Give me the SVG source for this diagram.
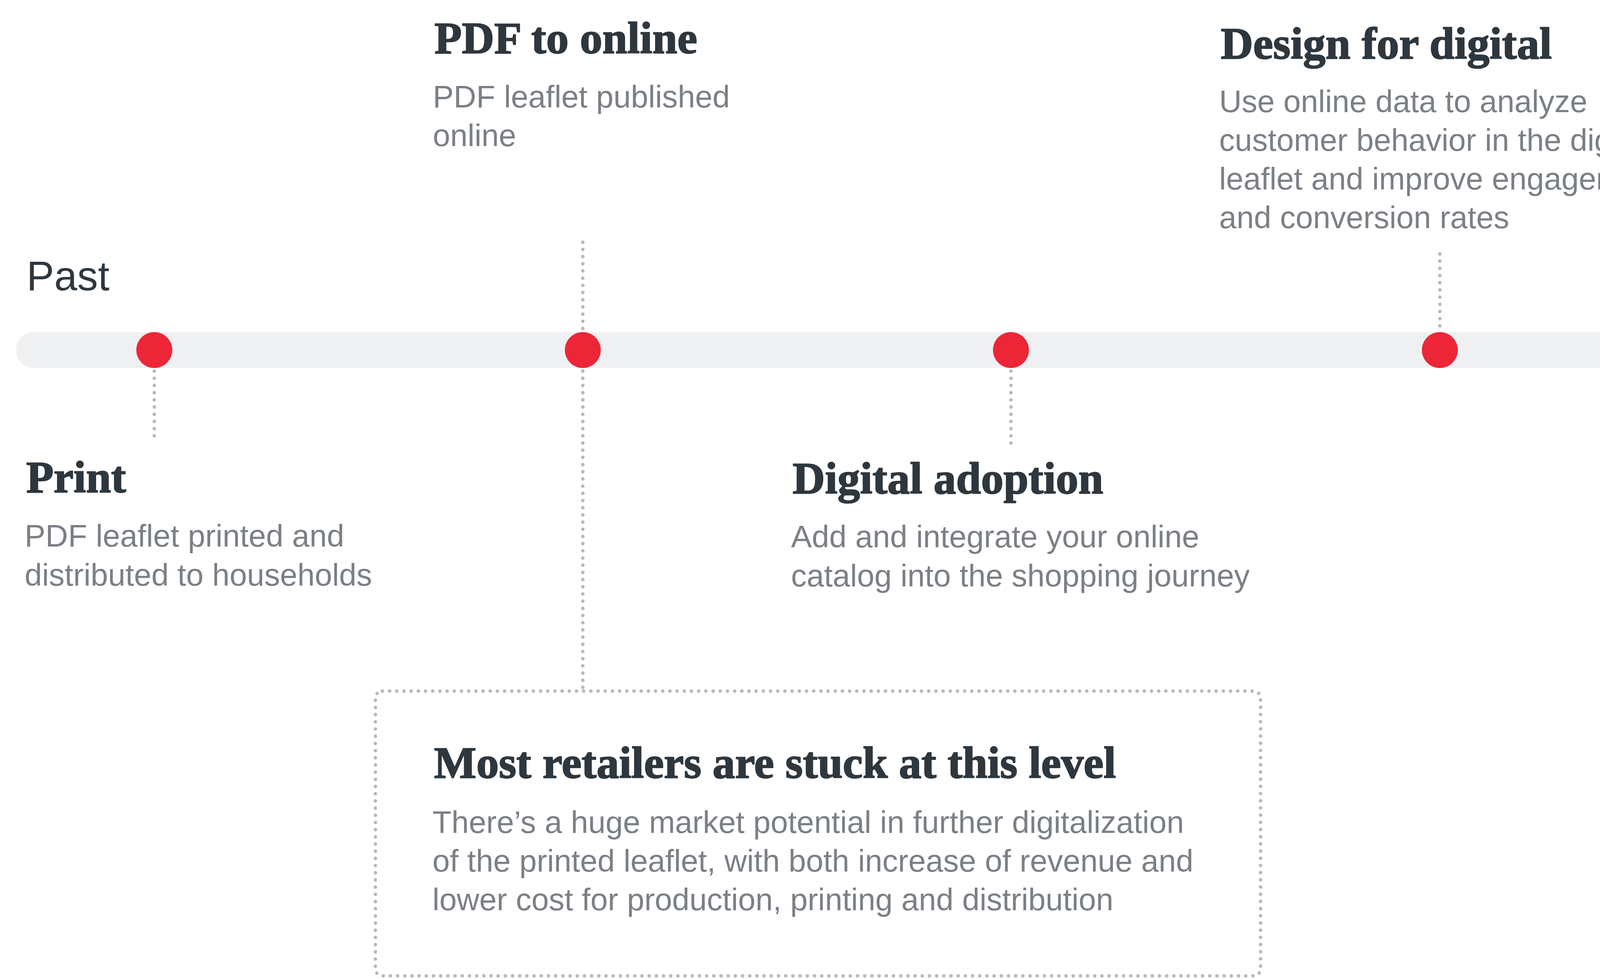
<svg xmlns="http://www.w3.org/2000/svg" width="7256" height="2506" viewBox="0 0 7256 2506">
<style>
.h{font-family:"Liberation Serif","Times New Roman",serif;font-weight:bold;font-size:115px;fill:#2f373e;stroke:#2f373e;stroke-width:2.5;stroke-linejoin:round}
.b{font-family:"Liberation Sans",Arial,sans-serif;font-size:80px;fill:#7b8086}
.end{font-family:"Liberation Sans",Arial,sans-serif;font-size:106px;fill:#2f373e}
.dot{fill:#ec2637}
.gdot{fill:#eff0f2}
.conn{fill:none;stroke:#b6b9bd;stroke-width:9;stroke-linecap:round;stroke-dasharray:0 18.4}
.box{fill:none;stroke:#b6b9bd;stroke-width:9;stroke-linecap:round;stroke-dasharray:0 18.4}
</style>
<rect width="7256" height="2506" fill="#ffffff"/>
<g id="connectors">
<line class="conn" x1="395" y1="950" x2="395" y2="1128"/>
<line class="conn" x1="1492" y1="620" x2="1492" y2="850"/>
<line class="conn" x1="1492" y1="950" x2="1492" y2="1769"/>
<line class="conn" x1="2588" y1="950" x2="2588" y2="1138"/>
<line class="conn" x1="3686" y1="650" x2="3686" y2="850"/>
<line class="conn" x1="4783" y1="950" x2="4783" y2="1130"/>
<line class="conn" x1="5879" y1="615" x2="5879" y2="850"/>
<line class="conn" x1="6976" y1="950" x2="6976" y2="1769"/>
</g>
<g id="timeline">
<rect x="41" y="850" width="6248" height="92" rx="46" fill="#eff0f2"/>
<circle class="gdot" cx="6426" cy="896" r="46"/>
<circle class="gdot" cx="6609" cy="896" r="46"/>
<circle class="gdot" cx="6793" cy="896" r="46"/>
<circle class="dot" cx="395" cy="896" r="46"/>
<circle class="dot" cx="1492" cy="896" r="46"/>
<circle class="dot" cx="2588" cy="896" r="46"/>
<circle class="dot" cx="3686" cy="896" r="46"/>
<circle class="dot" cx="4783" cy="896" r="46"/>
<circle class="dot" cx="5879" cy="896" r="46"/>
<circle class="dot" cx="6976" cy="896" r="46"/>
<text class="end" x="68" y="743">Past</text>
<text class="end" x="6705" y="742">Future</text>
</g>
<g id="print">
<text class="h" x="67" y="1260">Print</text>
<text class="b" x="63" y="1399">PDF leaflet printed and</text>
<text class="b" x="63" y="1499">distributed to households</text>
</g>
<g id="pdf-to-online">
<text class="h" x="1112" y="136">PDF to online</text>
<text class="b" x="1108" y="275">PDF leaflet published</text>
<text class="b" x="1108" y="374">online</text>
</g>
<g id="digital-adoption">
<text class="h" x="2029" y="1263">Digital adoption</text>
<text class="b" x="2025" y="1401">Add and integrate your online</text>
<text class="b" x="2025" y="1501">catalog into the shopping journey</text>
</g>
<g id="design-for-digital">
<text class="h" x="3125" y="150">Design for digital</text>
<text class="b" x="3121" y="287">Use online data to analyze</text>
<text class="b" x="3121" y="386">customer behavior in the digital</text>
<text class="b" x="3121" y="485">leaflet and improve engagement</text>
<text class="b" x="3121" y="584">and conversion rates</text>
</g>
<g id="digital-to-print">
<text class="h" x="4206" y="1261">Digital to print</text>
<text class="b" x="4202" y="1399">Flip the production of the leaflet.</text>
<text class="b" x="4202" y="1498">Focus on value-adding content</text>
<text class="b" x="4202" y="1597">like videos, animations, product</text>
<text class="b" x="4202" y="1696">information etc.</text>
</g>
<g id="pure-digital">
<text class="h" x="5299" y="136">Pure digital</text>
<text class="b" x="5295" y="275">Once you have the right reach and</text>
<text class="b" x="5295" y="374">impact for your target audience, it</text>
<text class="b" x="5295" y="473">is time to go purely digital</text>
</g>
<g id="most-retailers">
<rect class="box" x="961" y="1769" width="2266" height="729" rx="18"/>
<text class="h" x="1111" y="1991">Most retailers are stuck at this level</text>
<text class="b" x="1107" y="2132">There’s a huge market potential in further digitalization</text>
<text class="b" x="1107" y="2231">of the printed leaflet, with both increase of revenue and</text>
<text class="b" x="1107" y="2330">lower cost for production, printing and distribution</text>
</g>
<g id="multichannel-impact">
<rect class="box" x="6012" y="1769" width="1238" height="367" rx="18"/>
<text class="h" x="6631" y="1991" text-anchor="middle">Multichannel impact</text>
</g>
</svg>
